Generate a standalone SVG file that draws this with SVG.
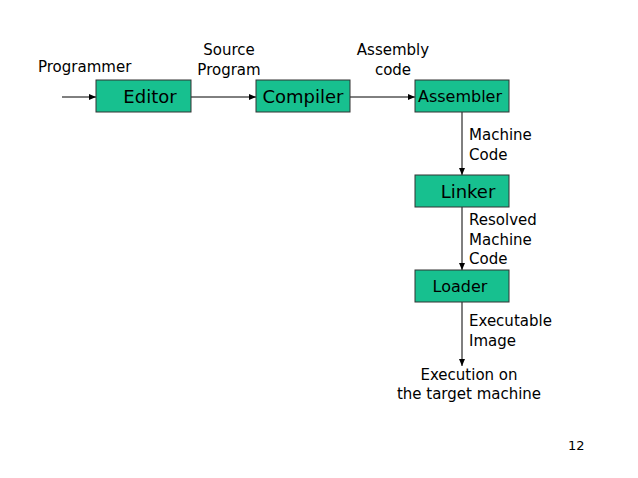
<svg xmlns="http://www.w3.org/2000/svg" width="638" height="478" viewBox="0 0 638 478">
<style>
.b{fill:#17c08f;stroke:#333;stroke-width:1}
.t{font-family:"DejaVu Sans",sans-serif;fill:#000}
.s{font-size:15px}
.l{font-size:18px}
.c{stroke:#000;stroke-width:1;fill:none;marker-end:url(#a)}
</style>
<defs><marker id="a" markerWidth="8" markerHeight="8" refX="7" refY="4" orient="auto" markerUnits="userSpaceOnUse"><path d="M0,1 L7,4 L0,7 Z" fill="#000"/></marker></defs>
<rect width="638" height="478" fill="#fff"/>
<g id="connectors">
<line class="c" x1="62" y1="97" x2="96" y2="97"/>
<line class="c" x1="191" y1="97" x2="256" y2="97"/>
<line class="c" x1="350" y1="97" x2="415" y2="97"/>
<line class="c" x1="462" y1="112" x2="462" y2="175"/>
<line class="c" x1="462" y1="207" x2="462" y2="270"/>
<line class="c" x1="462" y1="302" x2="462" y2="366"/>
</g>
<g id="editor"><rect class="b" x="96" y="80" width="95" height="32"/><text class="t l" x="150" y="103" text-anchor="middle">Editor</text></g>
<g id="compiler"><rect class="b" x="256" y="80" width="94" height="32"/><text class="t l" x="303" y="103" text-anchor="middle">Compiler</text></g>
<g id="assembler"><rect class="b" x="415" y="80" width="94" height="32"/><text class="t" x="460" y="102" font-size="16" text-anchor="middle">Assembler</text></g>
<g id="linker"><rect class="b" x="415" y="175" width="94" height="32"/><text class="t l" x="468" y="198" text-anchor="middle">Linker</text></g>
<g id="loader"><rect class="b" x="415" y="270" width="94" height="32"/><text class="t" x="460" y="292" font-size="16" text-anchor="middle">Loader</text></g>
<g id="labels">
<text class="t s" x="38" y="72">Programmer</text>
<text class="t s" x="229" y="55" text-anchor="middle">Source</text>
<text class="t s" x="229" y="75" text-anchor="middle">Program</text>
<text class="t s" x="393" y="55" text-anchor="middle">Assembly</text>
<text class="t s" x="393" y="75" text-anchor="middle">code</text>
<text class="t s" x="469" y="140">Machine</text>
<text class="t s" x="469" y="160">Code</text>
<text class="t s" x="469" y="225">Resolved</text>
<text class="t s" x="469" y="245">Machine</text>
<text class="t s" x="469" y="264">Code</text>
<text class="t s" x="469" y="326">Executable</text>
<text class="t s" x="469" y="346">Image</text>
<text class="t s" x="469" y="380" text-anchor="middle">Execution on</text>
<text class="t s" x="469" y="399" text-anchor="middle">the target machine</text>
<text class="t" x="568" y="450" font-size="13">12</text>
</g>
</svg>
